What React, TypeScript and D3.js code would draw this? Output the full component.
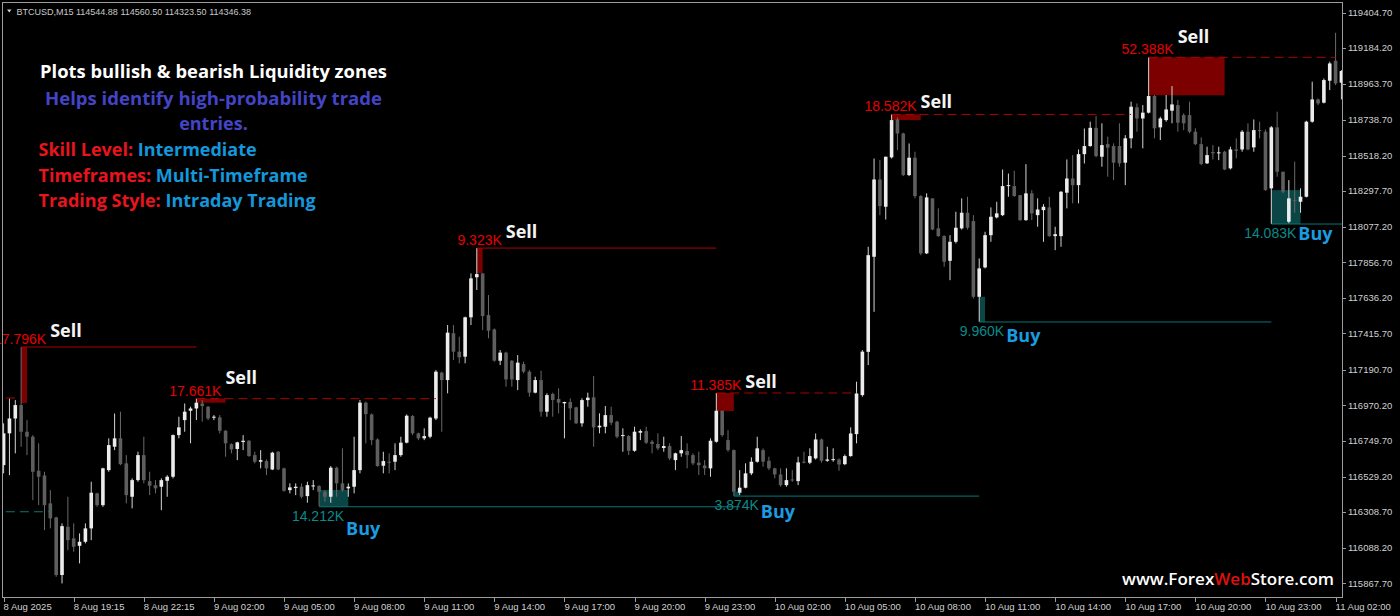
import React from 'react';
import * as d3 from 'd3';

const W = 1400;
const H = 616;

// M15 candles, [open, high, low, close] from left to right
const candles: [number, number, number, number][] = [
  [116600, 116859, 116549, 116797], [116797, 117013, 116538, 116889], [116889, 117003, 116673, 116972],
  [116972, 117332, 116714, 116807], [116807, 116879, 116662, 116776], [116776, 116786, 116383, 116559],
  [116565, 116735, 116352, 116528], [116536, 116559, 116197, 116352], [116363, 116445, 116208, 116270],
  [116276, 116280, 115908, 115919], [115919, 116239, 115867, 116222], [116218, 116404, 116073, 116135],
  [116146, 116239, 116063, 116094], [116100, 116177, 115991, 116125], [116125, 116239, 116115, 116208],
  [116208, 116497, 116135, 116429], [116425, 116429, 116342, 116352], [116352, 116584, 116342, 116580],
  [116569, 116766, 116559, 116724], [116714, 116920, 116693, 116766], [116766, 116931, 116600, 116606],
  [116611, 116662, 116363, 116414], [116404, 116518, 116332, 116507], [116507, 116683, 116497, 116662],
  [116662, 116776, 116487, 116507], [116501, 116559, 116414, 116472], [116476, 116507, 116425, 116456],
  [116466, 116518, 116321, 116507], [116503, 116538, 116404, 116528], [116528, 116790, 116518, 116786],
  [116786, 116900, 116766, 116834], [116879, 116982, 116807, 116931], [116937, 116962, 116735, 116951],
  [116951, 117012, 116879, 116987], [116982, 117003, 116869, 116966], [116962, 116966, 116879, 116889],
  [116894, 116910, 116879, 116900], [116896, 116910, 116797, 116813], [116813, 116817, 116652, 116735],
  [116730, 116735, 116673, 116697], [116700, 116745, 116631, 116741], [116743, 116786, 116693, 116751],
  [116751, 116755, 116652, 116656], [116662, 116683, 116611, 116621], [116621, 116693, 116580, 116631],
  [116625, 116635, 116538, 116580], [116573, 116683, 116569, 116677], [116683, 116687, 116569, 116573],
  [116580, 116584, 116435, 116441], [116445, 116487, 116425, 116462], [116458, 116487, 116414, 116466],
  [116466, 116487, 116394, 116404], [116408, 116497, 116367, 116476], [116468, 116507, 116445, 116474],
  [116470, 116476, 116345, 116435], [116435, 116445, 116373, 116404], [116404, 116594, 116367, 116584],
  [116584, 116590, 116404, 116487], [116487, 116704, 116435, 116445], [116456, 116487, 116404, 116466],
  [116466, 116776, 116425, 116569], [116569, 117003, 116549, 116987], [116987, 116993, 116735, 116916],
  [116914, 116920, 116724, 116755], [116759, 116766, 116590, 116594], [116596, 116683, 116549, 116625],
  [116621, 116673, 116549, 116615], [116621, 116735, 116569, 116662], [116662, 116776, 116652, 116739],
  [116739, 116914, 116735, 116906], [116904, 116910, 116786, 116797], [116797, 116801, 116755, 116766],
  [116766, 116828, 116755, 116780], [116776, 116900, 116766, 116894], [116889, 117189, 116879, 117179],
  [117173, 117179, 116807, 117127], [117127, 117468, 117045, 117421], [117417, 117468, 117251, 117303],
  [117303, 117396, 117231, 117268], [117272, 117520, 117231, 117516], [117516, 117788, 117468, 117757],
  [117764, 117945, 117685, 117784], [117788, 117788, 117437, 117524], [117530, 117654, 117386, 117433],
  [117441, 117447, 117241, 117247], [117247, 117313, 117220, 117297], [117297, 117303, 117086, 117131],
  [117247, 117251, 117086, 117131], [117127, 117282, 117065, 117235], [117226, 117241, 117169, 117179],
  [117179, 117189, 117024, 117049], [117049, 117148, 117045, 117127], [117127, 117185, 116900, 116931],
  [116931, 117045, 116900, 117034], [117041, 117049, 116900, 117003], [117010, 117076, 116921, 116987],
  [116983, 116993, 116766, 116991], [116991, 117014, 116879, 116952], [116958, 116962, 116855, 116859],
  [116859, 117014, 116838, 117003], [117003, 117049, 116962, 117018], [117020, 117152, 116714, 116834],
  [116834, 116921, 116797, 116844], [116838, 116966, 116797, 116910], [116910, 116962, 116848, 116863],
  [116869, 116875, 116766, 116776], [116780, 116828, 116683, 116786], [116780, 116786, 116662, 116689],
  [116689, 116838, 116683, 116807], [116801, 116821, 116755, 116811], [116811, 116838, 116731, 116739],
  [116745, 116755, 116673, 116731], [116731, 116797, 116693, 116704], [116706, 116776, 116683, 116718],
  [116718, 116735, 116631, 116642], [116631, 116677, 116569, 116673], [116673, 116780, 116652, 116693],
  [116687, 116735, 116580, 116662], [116662, 116673, 116600, 116611], [116615, 116683, 116539, 116600],
  [116598, 116631, 116539, 116580], [116580, 116766, 116528, 116751], [116745, 117047, 116739, 116937],
  [116937, 116937, 116776, 116786], [116755, 116817, 116683, 116693], [116693, 116697, 116410, 116435],
  [116429, 116569, 116414, 116460], [116460, 116611, 116456, 116549], [116549, 116648, 116538, 116621],
  [116621, 116776, 116615, 116704], [116693, 116704, 116590, 116621], [116627, 116652, 116569, 116580],
  [116580, 116584, 116518, 116542], [116542, 116580, 116466, 116476], [116476, 116580, 116466, 116507],
  [116511, 116569, 116497, 116505], [116501, 116652, 116476, 116617], [116621, 116683, 116611, 116615],
  [116615, 116704, 116606, 116656], [116642, 116796, 116635, 116759], [116759, 116765, 116615, 116627],
  [116627, 116714, 116621, 116635], [116631, 116704, 116621, 116637], [116635, 116642, 116565, 116604],
  [116606, 116666, 116600, 116656], [116656, 116834, 116652, 116796], [116792, 117117, 116735, 117044],
  [117034, 117313, 117024, 117303], [117302, 117953, 117220, 117901], [117891, 118500, 117550, 118370],
  [118370, 118490, 118149, 118205], [118201, 118511, 118122, 118511], [118507, 118773, 118500, 118738],
  [118742, 118755, 118552, 118655], [118655, 118660, 118391, 118397], [118397, 118593, 118391, 118505],
  [118505, 118542, 118253, 118267], [118267, 118273, 117901, 117912], [117912, 118284, 117908, 118259],
  [118253, 118253, 118056, 118060], [118067, 118191, 118015, 118019], [118019, 118025, 117829, 117860],
  [117866, 118025, 117746, 117984], [117984, 118170, 117974, 118071], [118067, 118253, 118060, 118164],
  [118164, 118263, 118060, 118071], [118112, 118149, 117633, 117643], [117643, 117881, 117488, 117819],
  [117825, 118046, 117819, 118025], [118025, 118197, 117984, 118139], [118135, 118232, 118129, 118160],
  [118149, 118432, 118143, 118329], [118329, 118407, 118263, 118335], [118329, 118424, 118263, 118267],
  [118273, 118273, 118114, 118118], [118118, 118465, 118114, 118284], [118284, 118304, 118118, 118160],
  [118149, 118253, 118077, 118184], [118180, 118217, 117984, 118201], [118197, 118263, 118015, 118019],
  [118019, 118077, 117932, 118031], [118019, 118298, 117953, 118294], [118288, 118494, 118191, 118376],
  [118376, 118521, 118222, 118335], [118335, 118556, 118222, 118527], [118527, 118686, 118469, 118577],
  [118577, 118728, 118573, 118690], [118690, 118763, 118507, 118515], [118511, 118718, 118449, 118583],
  [118589, 118635, 118387, 118567], [118577, 118594, 118366, 118474], [118577, 118718, 118449, 118470],
  [118474, 118645, 118335, 118625], [118625, 118852, 118563, 118821], [118817, 118841, 118666, 118748],
  [118748, 118831, 118563, 118784], [118784, 119127, 118779, 118887], [118887, 118893, 118625, 118687],
  [118693, 118759, 118614, 118748], [118738, 118893, 118728, 118804], [118796, 118949, 118718, 118835],
  [118831, 118862, 118666, 118722], [118769, 118780, 118676, 118718], [118769, 118852, 118656, 118666],
  [118666, 118687, 118583, 118589], [118589, 118631, 118459, 118466], [118470, 118573, 118466, 118521],
  [118540, 118583, 118494, 118532], [118532, 118573, 118490, 118538], [118542, 118548, 118428, 118432],
  [118439, 118573, 118432, 118556], [118556, 118625, 118501, 118548], [118556, 118676, 118542, 118666],
  [118666, 118718, 118552, 118556], [118569, 118742, 118542, 118676], [118676, 118728, 118625, 118670],
  [118666, 118680, 118300, 118304], [118315, 118701, 118094, 118693], [118693, 118790, 118387, 118418],
  [118418, 118418, 118284, 118294], [118108, 118366, 118098, 118253], [118242, 118480, 118164, 118236],
  [118232, 118315, 118164, 118263], [118263, 118734, 118259, 118728], [118728, 118976, 118722, 118866],
  [118866, 118872, 118831, 118841], [118846, 118996, 118841, 118986], [118982, 119100, 118924, 119089],
  [119106, 119279, 118955, 118965], [118970, 119048, 118866, 119042],
];

// one time label every 12 bars
const timeLabels = [
  '8 Aug 2025', '8 Aug 19:15', '8 Aug 22:15', '9 Aug 02:00', '9 Aug 05:00', '9 Aug 08:00',
  '9 Aug 11:00', '9 Aug 14:00', '9 Aug 17:00', '9 Aug 20:00', '9 Aug 23:00', '10 Aug 02:00',
  '10 Aug 05:00', '10 Aug 08:00', '10 Aug 11:00', '10 Aug 14:00', '10 Aug 17:00', '10 Aug 20:00',
  '10 Aug 23:00', '11 Aug 02:00',
];

const priceLabels = [
  119404.7, 119184.2, 118963.7, 118738.7, 118518.2, 118297.7, 118077.2, 117856.7, 117636.2,
  117415.7, 117190.7, 116970.2, 116749.7, 116529.2, 116308.7, 116088.2, 115867.7,
];

// bar = pivot bar, boxEnd = bar where the box stops, lineEnd = bar where the level stops
const sellZones = [
  { vol: '17.796K', bar: 3, boxEnd: 4, high: 117332, low: 116985, lineEnd: 33, broken: false, tag: 117394 },
  { vol: '17.661K', bar: 33, boxEnd: 38, high: 117012, low: 116987, lineEnd: 74, broken: true, tag: 117102 },
  { vol: '9.323K', bar: 81, boxEnd: 82, high: 117945, low: 117790, lineEnd: 122, broken: false, tag: 118007 },
  { vol: '11.385K', bar: 122, boxEnd: 125, high: 117047, low: 116935, lineEnd: 146, broken: true, tag: 117078 },
  { vol: '18.582K', bar: 152, boxEnd: 157, high: 118773, low: 118738, lineEnd: 193, broken: true, tag: 118813 },
  { vol: '52.388K', bar: 196, boxEnd: 209, high: 119127, low: 118892, lineEnd: 228, broken: true, tag: 119216 },
];

const buyZones = [
  { vol: '14.212K', bar: 54, boxEnd: 59, high: 116446, low: 116342, lineEnd: 126, tag: 116167 },
  { vol: '3.874K', bar: 125, boxEnd: 126, high: 116435, low: 116408, lineEnd: 167, tag: 116272 },
  { vol: '9.960K', bar: 167, boxEnd: 168, high: 117643, low: 117487, lineEnd: 217, tag: 117363 },
  { vol: '14.083K', bar: 217, boxEnd: 222, high: 118304, low: 118094, lineEnd: 231, tag: 117995 },
];

// levels of older zones that start off the left edge
const oldLevels = [
  { side: 'sell', price: 117016, from: -2, to: 3 },
  { side: 'buy', price: 116311, from: -2, to: 8 },
];

const RED_LINE = '#b00000';
const RED_BOX = '#7c0000';
const RED_TEXT = '#e80000';
const TEAL_LINE = '#0a7676';
const TEAL_BOX = '#0a4646';
const TEAL_TEXT = '#0b8a8a';
const BUY_BLUE = '#1b9be0';
const AXIS_TEXT = '#d0d0d0';
const FRAME = '#9c9c9c';

const numFont = "'Liberation Sans', Arial, sans-serif";
const boldFont = "'Open Sans', 'Noto Sans', sans-serif";

export default function App() {
  const x = d3.scaleLinear().domain([0, 229]).range([3.6, 3.6 + 5.842 * 229]);
  const y = d3.scaleLinear().domain([115867.7, 119404.7]).range([583.3, 12.5]);
  const bodyW = 3.6;

  return (
    <div style={{ position: 'absolute', left: 0, top: 0, width: W, height: H, background: '#000' }}>
      <svg width={W} height={H} viewBox={`0 0 ${W} ${H}`} style={{ display: 'block' }}>
        <rect width={W} height={H} fill="#000" />
        <defs>
          <clipPath id="plot">
            <rect x={3} y={3} width={1339} height={594} />
          </clipPath>
        </defs>

        <g clipPath="url(#plot)">
          {/* zone boxes sit behind the candles */}
          {sellZones.map((z, i) => (
            <rect key={`sb${i}`} x={x(z.bar)} y={y(z.high)} width={x(z.boxEnd) - x(z.bar)}
              height={y(z.low) - y(z.high)} fill={RED_BOX} />
          ))}
          {buyZones.map((z, i) => (
            <rect key={`bb${i}`} x={x(z.bar)} y={y(z.high)} width={x(z.boxEnd) - x(z.bar)}
              height={y(z.low) - y(z.high)} fill={TEAL_BOX} />
          ))}

          {candles.map(([o, h, l, c], i) => {
            const bull = c >= o;
            const top = y(Math.max(o, c));
            const bh = Math.max(1, Math.abs(y(o) - y(c)));
            return (
              <g key={i}>
                <rect x={x(i) - 0.5} y={y(h)} width={1} height={y(l) - y(h)}
                  fill={bull ? '#d4d4d4' : '#6a6a6a'} />
                <rect x={x(i) - bodyW / 2} y={top} width={bodyW} height={bh}
                  fill={bull ? '#ececec' : '#5e5e5e'} />
              </g>
            );
          })}

          {sellZones.map((z, i) => (
            <line key={`sl${i}`} x1={x(z.bar)} x2={x(z.lineEnd)} y1={y(z.high)} y2={y(z.high)}
              stroke={RED_LINE} strokeWidth={1} strokeDasharray={z.broken ? '9,5' : undefined} />
          ))}
          {buyZones.map((z, i) => (
            <line key={`bl${i}`} x1={x(z.bar)} x2={x(z.lineEnd)} y1={y(z.low)} y2={y(z.low)}
              stroke={TEAL_LINE} strokeWidth={1} />
          ))}
          {oldLevels.map((lv, i) => (
            <line key={`ol${i}`} x1={x(lv.from)} x2={x(lv.to)} y1={y(lv.price)} y2={y(lv.price)}
              stroke={lv.side === 'sell' ? RED_LINE : TEAL_LINE} strokeWidth={1} strokeDasharray="9,5" />
          ))}
        </g>

        {/* zone labels */}
        {sellZones.map((z, i) => {
          const xe = x(z.bar) + 25;
          return (
            <g key={`st${i}`}>
              <text x={xe} y={y(z.high) - 3} textAnchor="end" fontFamily={numFont} fontSize={14} fill={RED_TEXT}>{z.vol}</text>
              <text x={xe + 4} y={y(z.tag)} fontFamily={boldFont} fontWeight={700} fontSize={18} fill="#f4f4f4">Sell</text>
            </g>
          );
        })}
        {buyZones.map((z, i) => {
          const xe = x(z.bar) + 25;
          return (
            <g key={`bt${i}`}>
              <text x={xe} y={y(z.low) + 14} textAnchor="end" fontFamily={numFont} fontSize={14} fill={TEAL_TEXT}>{z.vol}</text>
              <text x={xe + 2} y={y(z.tag)} fontFamily={boldFont} fontWeight={700} fontSize={18} fill={BUY_BLUE}>Buy</text>
            </g>
          );
        })}

        {/* info block */}
        <g fontFamily={boldFont} fontWeight={700} fontSize={18}>
          <text x={213.5} y={78} textAnchor="middle" fill="#ffffff" textLength={347} lengthAdjust="spacingAndGlyphs">Plots bullish &amp; bearish Liquidity zones</text>
          <text x={213.5} y={105} textAnchor="middle" fill="#4444c6" textLength={337} lengthAdjust="spacingAndGlyphs">Helps identify high-probability trade</text>
          <text x={213.5} y={130} textAnchor="middle" fill="#4444c6">entries.</text>
          <text x={38.5} y={156}><tspan fill="#e8141e">Skill Level: </tspan><tspan fill="#1398dc">Intermediate</tspan></text>
          <text x={38.5} y={182}><tspan fill="#e8141e">Timeframes: </tspan><tspan fill="#1398dc">Multi-Timeframe</tspan></text>
          <text x={38.5} y={207}><tspan fill="#e8141e">Trading Style: </tspan><tspan fill="#1398dc">Intraday Trading</tspan></text>
        </g>

        {/* watermark */}
        <text x={1334} y={585} textAnchor="end" fontFamily={boldFont} fontWeight={600} fontSize={17} fill="#ffffff">
          www.Forex<tspan fill="#e01010">Web</tspan>Store.com
        </text>

        {/* header */}
        <path d="M7,9.5 L11.5,9.5 L9.25,12.5 Z" fill="#d0d0d0" />
        <text x={16.5} y={15} fontFamily={numFont} fontSize={9} fill="#c8c8c8">BTCUSD,M15</text>
        <text x={76} y={15} fontFamily={numFont} fontSize={9} fill="#c8c8c8">114544.88 114560.50 114323.50 114346.38</text>

        {/* frame */}
        <rect x={2.5} y={2.5} width={1340} height={595} fill="none" stroke={FRAME} strokeWidth={1} />

        {/* price axis */}
        {priceLabels.map((p) => (
          <g key={p}>
            <line x1={1343} x2={1346} y1={Math.round(y(p)) + 0.5} y2={Math.round(y(p)) + 0.5} stroke={FRAME} />
            <text x={1348} y={y(p)} dy="0.35em" fontFamily={numFont} fontSize={9.5} fill={AXIS_TEXT}>{p.toFixed(2)}</text>
          </g>
        ))}

        {/* time axis */}
        {timeLabels.map((t, i) => (
          <g key={t}>
            <line x1={Math.round(x(i * 12)) + 0.5} x2={Math.round(x(i * 12)) + 0.5} y1={598} y2={602} stroke={FRAME} />
            <text x={x(i * 12)} y={610} fontFamily={numFont} fontSize={9.5} fill={AXIS_TEXT}>{t}</text>
          </g>
        ))}
      </svg>
    </div>
  );
}
